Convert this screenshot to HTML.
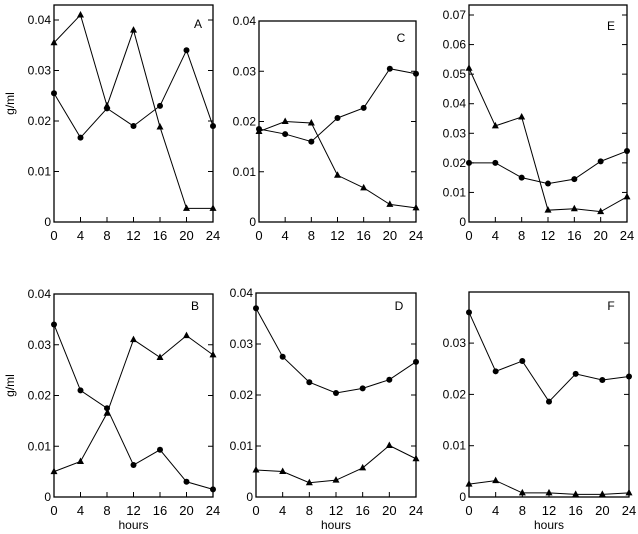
<!DOCTYPE html>
<html><head><meta charset="utf-8"><style>
html,body{margin:0;padding:0;background:#fff;}
svg{display:block;font-family:"Liberation Sans",sans-serif;}
text{fill:#000;}
</style></head><body>
<svg id="fig" width="638" height="534" viewBox="0 0 638 534"></svg>
<script>
const hours=[0,4,8,12,16,20,24];
const aCircle=[0.0255,0.0167,0.0225,0.019,0.023,0.034,0.019];
const aTri=[0.0355,0.041,0.023,0.038,0.0188,0.0027,0.0027];
const cCircle=[0.0185,0.0175,0.016,0.0207,0.0227,0.0305,0.0295];
const cTri=[0.018,0.020,0.0197,0.0093,0.0068,0.0035,0.0028];
const eTri=[0.052,0.0325,0.0355,0.004,0.0045,0.0035,0.0085];
const eCircle=[0.020,0.020,0.015,0.013,0.0145,0.0205,0.024];
const bCircle=[0.034,0.021,0.0175,0.0063,0.0093,0.003,0.0015];
const bTri=[0.005,0.007,0.0165,0.031,0.0275,0.0318,0.028];
const dTop=[0.037,0.0275,0.0225,0.0204,0.0213,0.023,0.0265];
const dBot=[0.0053,0.005,0.0028,0.0033,0.0057,0.0101,0.0075];
const fTop=[0.036,0.0245,0.0265,0.0186,0.024,0.0228,0.0235];
const fBot=[0.0025,0.0032,0.0008,0.0008,0.0005,0.0005,0.0008];
const ticks4=["0","0.01","0.02","0.03","0.04"];
const ticks7=["0","0.01","0.02","0.03","0.04","0.05","0.06","0.07"];
const ticks3=["0","0.01","0.02","0.03"];

const NS="http://www.w3.org/2000/svg";
const svg=document.getElementById('fig');
function mk(tag,attrs,parent){const e=document.createElementNS(NS,tag);for(const k in attrs)e.setAttribute(k,attrs[k]);(parent||svg).appendChild(e);return e;}

const panels=[
 {id:'a',label:'A',x0:54,x1:213,y0:222,top:5,ppu:5050,ticks:ticks4,series:[[aCircle,'c'],[aTri,'t']],lx:198,ly:28,ylab:true,hours:false},
 {id:'c',label:'C',x0:259,x1:416,y0:222,top:21,ppu:5025,ticks:ticks4,series:[[cCircle,'c'],[cTri,'t']],lx:401,ly:42,ylab:false,hours:false},
 {id:'e',label:'E',x0:469,x1:627,y0:222,top:5,ppu:2957,ticks:ticks7,series:[[eTri,'t'],[eCircle,'c']],lx:611,ly:30,ylab:false,hours:false},
 {id:'b',label:'B',x0:54,x1:213,y0:497,top:294,ppu:5075,ticks:ticks4,series:[[bCircle,'c'],[bTri,'t']],lx:195,ly:310,ylab:true,hours:true},
 {id:'d',label:'D',x0:256,x1:416,y0:497,top:293,ppu:5100,ticks:ticks4,series:[[dTop,'c'],[dBot,'t']],lx:399,ly:310,ylab:false,hours:true},
 {id:'f',label:'F',x0:469,x1:629,y0:497,top:292,ppu:5130,ticks:ticks3,series:[[fTop,'c'],[fBot,'t']],lx:611,ly:310,ylab:false,hours:true}
];

panels.forEach(p=>{
  const g=mk('g',{});
  
  
  const xs=h=>p.x0+(p.x1-p.x0)*h/24;
  const ys=v=>p.y0-v*p.ppu;
  const frame=mk('rect',{x:p.x0,y:p.top,width:p.x1-p.x0,height:p.y0-p.top,fill:'none',stroke:'#000','stroke-width':1.3},g);
  
  
  p.ticks.forEach((t,i)=>{
    const y=ys(i*0.01);
    mk('line',{x1:p.x0,x2:p.x0+5,y1:y,y2:y,stroke:'#000','stroke-width':1},g);
    mk('line',{x1:p.x1,x2:p.x1-5,y1:y,y2:y,stroke:'#000','stroke-width':1},g);
    const tx=mk('text',{x:p.x0-3,y:y+4,'text-anchor':'end','font-size':12},g);
    tx.textContent=t;
    
    
  });
  hours.forEach(h=>{
    const x=xs(h);
    mk('line',{x1:x,x2:x,y1:p.y0,y2:p.y0-5,stroke:'#000','stroke-width':1},g);
    const tx=mk('text',{x:x,y:p.y0+18,'text-anchor':'middle','font-size':13},g);
    tx.textContent=h;
    
    
  });
  p.series.forEach((s,si)=>{
    const vals=s[0];
    const pts=vals.map((v,i)=>xs(hours[i])+','+ys(v)).join(' ');
    const pl=mk('polyline',{points:pts,fill:'none',stroke:'#000','stroke-width':1},g);
    
    
    vals.forEach((v,i)=>{
      const x=xs(hours[i]),y=ys(v);
      let m;
      if(s[1]==='c'){m=mk('circle',{cx:x,cy:y,r:3,fill:'#000'},g);}
      else{m=mk('polygon',{points:`${x},${y-4} ${x-3.5},${y+2.5} ${x+3.5},${y+2.5}`,fill:'#000'},g);}
      
      
    });
  });
  const lb=mk('text',{x:p.lx,y:p.ly,'font-size':12,'text-anchor':'middle'},g);
  lb.textContent=p.label;
  
  
  if(p.ylab){
    const cy=(p.top+p.y0)/2-10;
    const yl=mk('text',{x:14,y:cy,'font-size':12,'text-anchor':'middle',transform:`rotate(-90 14 ${cy})`},g);
    yl.textContent='g/ml';
    
    
  }
  if(p.hours){
    const hl=mk('text',{x:(p.x0+p.x1)/2,y:529,'font-size':12,'text-anchor':'middle'},g);
    hl.textContent='hours';
    
    
  }
});
</script>
</body></html>
